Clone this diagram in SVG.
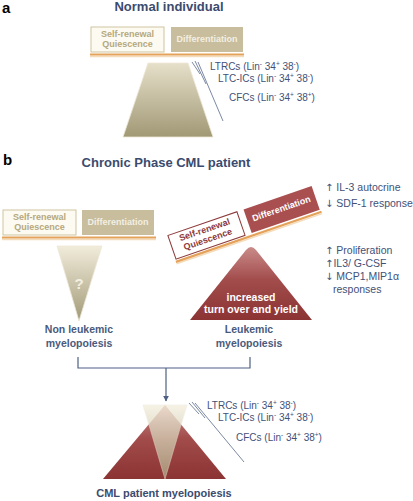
<svg xmlns="http://www.w3.org/2000/svg" width="413" height="501" viewBox="0 0 413 501">
<style>
text{font-family:"Liberation Sans",Arial,sans-serif}
.panel{font-size:15px;font-weight:bold;fill:#000}
.head{font-size:13px;font-weight:bold;fill:#3b4b6e}
.bx{font-size:9px;font-weight:bold;text-anchor:middle}
.lbl{font-size:10.5px;fill:#3f5177}
.ar{font-family:"DejaVu Sans",sans-serif;font-size:10px}
.cl{font-size:10px;fill:#3f5177}
.sup{font-size:6.5px}
.cap{font-size:10.5px;font-weight:bold;fill:#4a5a7d;text-anchor:middle}
.inw{font-size:10.5px;font-weight:bold;fill:#fff;text-anchor:middle}
.cn{fill:none;stroke:#4d6084;stroke-width:1.2}
.tick{stroke:#5b6b8c;stroke-width:0.8}
</style>
<defs>
<linearGradient id="gTan" x1="0" y1="0" x2="0" y2="1">
<stop offset="0" stop-color="#e6e0ca"/><stop offset="1" stop-color="#a19875"/>
</linearGradient>
<linearGradient id="gFun" x1="0" y1="0" x2="0" y2="1">
<stop offset="0" stop-color="#f1ecdb"/><stop offset="1" stop-color="#a29a77"/>
</linearGradient>
<linearGradient id="gRed" x1="0" y1="0" x2="0" y2="1">
<stop offset="0" stop-color="#c98b89"/><stop offset="0.45" stop-color="#a24c4c"/><stop offset="1" stop-color="#8c3333"/>
</linearGradient>
<linearGradient id="gCream" x1="0" y1="0" x2="0" y2="1">
<stop offset="0" stop-color="#f4efde"/><stop offset="1" stop-color="#aca481"/>
</linearGradient>
<marker id="ah" viewBox="0 0 10 10" refX="9" refY="5" markerWidth="6" markerHeight="6" orient="auto" markerUnits="userSpaceOnUse">
<path d="M0,0 L10,5 L0,10 Z" fill="#4d6084"/>
</marker>
</defs>
<rect width="413" height="501" fill="#fff"/>

<text class="panel" x="2" y="13">a</text>
<text class="head" x="169" y="11" text-anchor="middle" font-size="12.5">Normal individual</text>

<g id="normal-boxes" transform="translate(91,55)">
<rect x="0" y="-28" width="73" height="25" fill="#fcfaf1" stroke="#cfc4a2" stroke-width="1"/>
<text class="bx" x="36.5" y="-18.5" fill="#b6a87e">Self-renewal</text>
<text class="bx" x="36.5" y="-8.5" fill="#b6a87e">Quiescence</text>
<rect x="80" y="-28" width="72" height="25" fill="#c8bd9c"/>
<text class="bx" x="116" y="-13.5" fill="#f3efe3">Differentiation</text>
<line x1="-1" y1="1.5" x2="153" y2="1.5" stroke="#f4dcbb" stroke-width="1.5"/>
<line x1="-1" y1="-0.5" x2="153" y2="-0.5" stroke="#e4a25a" stroke-width="2.2"/>
</g>

<g id="normal-hierarchy">
<path d="M148,63 L188,63 L213,137 L123,137 Z" fill="url(#gTan)" stroke="#ece7d6" stroke-width="0.8"/>
<line class="tick" x1="192" y1="62" x2="200" y2="74"/>
<line class="tick" x1="195" y1="61" x2="206" y2="84"/>
<line class="tick" x1="198" y1="62" x2="223" y2="121"/>
<text class="cl" x="210" y="70">LTRCs (Lin<tspan class="sup" dy="-4">-</tspan><tspan dy="4"> 34</tspan><tspan class="sup" dy="-4">+</tspan><tspan dy="4"> 38</tspan><tspan class="sup" dy="-4">-</tspan><tspan dy="4">)</tspan></text>
<text class="cl" x="218" y="82">LTC-ICs (Lin<tspan class="sup" dy="-4">-</tspan><tspan dy="4"> 34</tspan><tspan class="sup" dy="-4">+</tspan><tspan dy="4"> 38</tspan><tspan class="sup" dy="-4">-</tspan><tspan dy="4">)</tspan></text>
<text class="cl" x="229" y="101">CFCs (Lin<tspan class="sup" dy="-4">-</tspan><tspan dy="4"> 34</tspan><tspan class="sup" dy="-4">+</tspan><tspan dy="4"> 38</tspan><tspan class="sup" dy="-4">+</tspan><tspan dy="4">)</tspan></text>
</g>

<text class="panel" x="3" y="165">b</text>
<text class="head" x="166" y="167" text-anchor="middle">Chronic Phase CML patient</text>

<g id="cml-normal-boxes" transform="translate(3,238)">
<rect x="0" y="-28" width="73" height="25" fill="#fcfaf1" stroke="#cfc4a2" stroke-width="1"/>
<text class="bx" x="36.5" y="-18.5" fill="#b6a87e">Self-renewal</text>
<text class="bx" x="36.5" y="-8.5" fill="#b6a87e">Quiescence</text>
<rect x="79" y="-28" width="72" height="25" fill="#c8bd9c"/>
<text class="bx" x="115" y="-13.5" fill="#f3efe3">Differentiation</text>
<line x1="-1" y1="1.5" x2="153" y2="1.5" stroke="#f4dcbb" stroke-width="1.5"/>
<line x1="-1" y1="-0.5" x2="153" y2="-0.5" stroke="#e4a25a" stroke-width="2.2"/>
</g>

<g id="non-leukemic">
<path d="M57,246 L102,246 L79,321 Z" fill="url(#gFun)" stroke="#ece7d6" stroke-width="0.8"/>
<text x="79" y="289" font-size="15" font-weight="bold" fill="#f3efe3" text-anchor="middle">?</text>
<text class="cap" x="79" y="333">Non leukemic</text>
<text class="cap" x="79" y="347">myelopoiesis</text>
</g>

<g id="cml-leukemic-boxes" transform="translate(177,262) rotate(-19)">
<rect x="0" y="-28" width="73" height="25" fill="#fff" stroke="#8d3b3b" stroke-width="1"/>
<text class="bx" x="36.5" y="-18.5" fill="#8d3b3b">Self-renewal</text>
<text class="bx" x="36.5" y="-8.5" fill="#8d3b3b">Quiescence</text>
<rect x="80" y="-28" width="72" height="25" fill="#a94f50"/>
<text class="bx" x="116" y="-13.5" fill="#fff">Differentiation</text>
<line x1="-1" y1="1.5" x2="153" y2="1.5" stroke="#f4dcbb" stroke-width="1.5"/>
<line x1="-1" y1="-0.5" x2="153" y2="-0.5" stroke="#e4a25a" stroke-width="2.2"/>
</g>

<g id="leukemic">
<path d="M190,320 L246,250 Q251,244 256,250 L312,320 Z" fill="url(#gRed)"/>
<text class="inw" x="251" y="301">increased</text>
<text class="inw" x="251" y="313">turn over and yield</text>
<text class="cap" x="249" y="333">Leukemic</text>
<text class="cap" x="249" y="347">myelopoiesis</text>
</g>

<g id="cml-notes">
<text class="lbl" x="325" y="191"><tspan class="ar">↑</tspan> IL-3 autocrine</text>
<text class="lbl" x="325" y="207"><tspan class="ar">↓</tspan> SDF-1 response</text>
<text class="lbl" x="325" y="254"><tspan class="ar">↑</tspan> Proliferation</text>
<text class="lbl" x="325" y="267"><tspan class="ar">↑</tspan>IL3/ G-CSF</text>
<text class="lbl" x="325" y="280"><tspan class="ar">↓</tspan> MCP1,MIP1α</text>
<text class="lbl" x="333" y="293">responses</text>
</g>

<g id="connectors">
<path class="cn" d="M78,357 L78,368 L250,368 L250,357"/>
<line class="cn" x1="166" y1="368" x2="166" y2="401" marker-end="url(#ah)"/>
</g>

<g id="cml-myelopoiesis">
<path d="M165,405 L226,479 L103,479 Z" fill="url(#gRed)"/>
<path d="M143,405 L187,405 L165,479 Z" fill="url(#gCream)" opacity="0.78" stroke="#ece7d6" stroke-width="0.6"/>
<line class="tick" x1="189" y1="403" x2="199" y2="414"/>
<line class="tick" x1="192" y1="402" x2="205" y2="418"/>
<line class="tick" x1="195" y1="403" x2="244" y2="462"/>
<text class="cl" x="207" y="409">LTRCs (Lin<tspan class="sup" dy="-4">-</tspan><tspan dy="4"> 34</tspan><tspan class="sup" dy="-4">+</tspan><tspan dy="4"> 38</tspan><tspan class="sup" dy="-4">-</tspan><tspan dy="4">)</tspan></text>
<text class="cl" x="218" y="421">LTC-ICs (Lin<tspan class="sup" dy="-4">-</tspan><tspan dy="4"> 34</tspan><tspan class="sup" dy="-4">+</tspan><tspan dy="4"> 38</tspan><tspan class="sup" dy="-4">-</tspan><tspan dy="4">)</tspan></text>
<text class="cl" x="236" y="441">CFCs (Lin<tspan class="sup" dy="-4">-</tspan><tspan dy="4"> 34</tspan><tspan class="sup" dy="-4">+</tspan><tspan dy="4"> 38</tspan><tspan class="sup" dy="-4">+</tspan><tspan dy="4">)</tspan></text>
<text x="164" y="497" font-size="11" font-weight="bold" fill="#3b4b6e" text-anchor="middle">CML patient myelopoiesis</text>
</g>
</svg>
